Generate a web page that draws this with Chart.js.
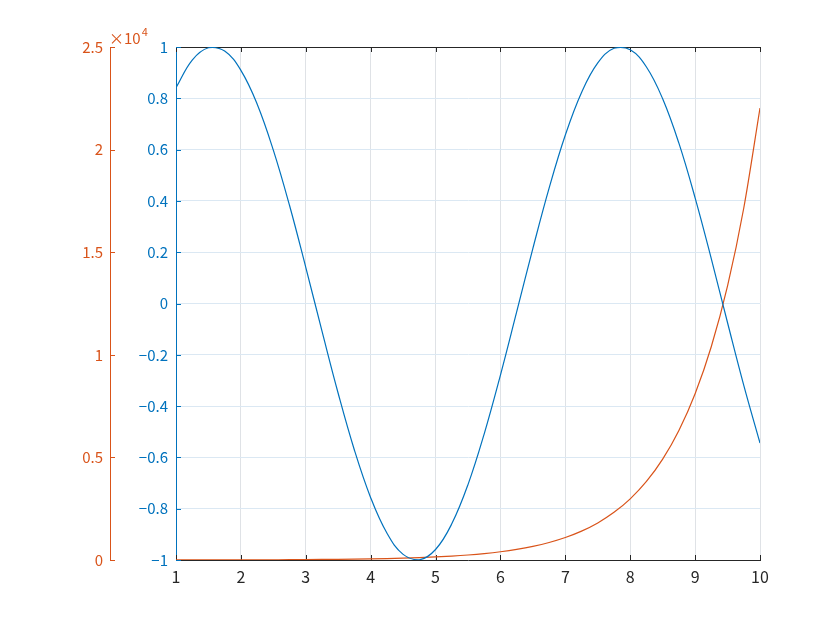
<!DOCTYPE html>
<html>
<head>
<meta charset="utf-8">
<script src="https://cdn.jsdelivr.net/npm/chart.js@4.4.1/dist/chart.umd.min.js"></script>
<style>html,body{margin:0;padding:0;background:#fff;}canvas{display:block;}</style>
</head>
<body>
<canvas id="c" width="840" height="630"></canvas>
<script>
// x positions
const xValues = [1,1.25,1.5,1.75,2,2.25,2.5,2.75,3,3.25,3.5,3.75,4,4.25,4.5,4.75,5,5.25,5.5,5.75,6,6.25,6.5,6.75,7,7.25,7.5,7.75,8,8.25,8.5,8.75,9,9.25,9.5,9.75,10];
// blue series (left inner axis)
const blueValues = [0.841,0.949,0.997,0.984,0.909,0.778,0.598,0.382,0.141,-0.108,-0.351,-0.572,-0.757,-0.895,-0.978,-0.999,-0.959,-0.859,-0.706,-0.508,-0.279,-0.033,0.215,0.450,0.657,0.823,0.938,0.995,0.989,0.922,0.798,0.625,0.412,0.174,-0.075,-0.319,-0.544];
// orange series (left outer axis, x10^4)
const orangeValues = [2.7,3.5,4.5,5.8,7.4,9.5,12.2,15.6,20.1,25.8,33.1,42.5,54.6,70.1,90,115.6,148.4,190.6,244.7,314.2,403.4,518,665,854,1097,1408,1808,2322,2981,3828,4915,6311,8103,10405,13360,17154,22026];
const xTicks = [1,2,3,4,5,6,7,8,9,10];
const blueTicks = [-1,-0.8,-0.6,-0.4,-0.2,0,0.2,0.4,0.6,0.8,1];
const orangeTicks = [0,5000,10000,15000,20000,25000];

const BLUE = '#0072BD', ORANGE = '#D95319', DARK = '#262626';
const FONT = "'Noto Sans CJK JP', 'Noto Sans', sans-serif";

const fmt = v => String(Number(v.toFixed(2))).replace('-', '\u2212');

const tickPlugin = {
  id: 'matlabTicks',
  beforeDatasetsDraw(chart) {
    const ctx = chart.ctx, a = chart.chartArea;
    const sx = chart.scales.x, sy = chart.scales.y, sy2 = chart.scales.y2;
    const L = 5;
    ctx.save();
    ctx.lineWidth = 1;
    // top border
    ctx.strokeStyle = DARK;
    ctx.beginPath();
    ctx.moveTo(a.left, a.top + 0.5); ctx.lineTo(a.right, a.top + 0.5);
    ctx.stroke();
    // x ticks bottom & top
    ctx.beginPath();
    xTicks.forEach(t => {
      const p = Math.round(sx.getPixelForValue(t)) + 0.5;
      ctx.moveTo(p, a.bottom); ctx.lineTo(p, a.bottom - L);
      ctx.moveTo(p, a.top); ctx.lineTo(p, a.top + L);
    });
    ctx.stroke();
    // blue ticks
    ctx.strokeStyle = BLUE;
    ctx.beginPath();
    blueTicks.forEach(t => {
      const p = Math.round(sy.getPixelForValue(t)) + 0.5;
      ctx.moveTo(a.left, p); ctx.lineTo(a.left + L, p);
    });
    ctx.stroke();
    // orange ticks
    ctx.strokeStyle = ORANGE;
    ctx.beginPath();
    orangeTicks.forEach(t => {
      const p = Math.round(sy2.getPixelForValue(t)) + 0.5;
      ctx.moveTo(sy2.right, p); ctx.lineTo(sy2.right + L, p);
    });
    ctx.stroke();
    // exponent label
    ctx.fillStyle = ORANGE;
    ctx.textBaseline = 'alphabetic';
    ctx.textAlign = 'left';
    ctx.font = "15px " + FONT;
    ctx.fillText('\u00D710', sy2.right - 1, a.top - 3);
    const w = ctx.measureText('\u00D710').width;
    ctx.font = "11px " + FONT;
    ctx.fillText('4', sy2.right + w, a.top - 11);
    ctx.restore();
  }
};

new Chart(document.getElementById('c'), {
  type: 'line',
  data: {
    datasets: [
      {
        label: 'blue',
        data: xValues.map((x, i) => ({x, y: blueValues[i]})),
        yAxisID: 'y',
        borderColor: BLUE,
        borderWidth: 1.2,
        pointRadius: 0,
        tension: 0.4,
        fill: false
      },
      {
        label: 'orange',
        data: xValues.map((x, i) => ({x, y: orangeValues[i]})),
        yAxisID: 'y2',
        borderColor: ORANGE,
        borderWidth: 1.2,
        pointRadius: 0,
        cubicInterpolationMode: 'monotone',
        fill: false
      }
    ]
  },
  plugins: [tickPlugin],
  options: {
    responsive: false,
    animation: false,
    devicePixelRatio: 1,
    layout: { padding: { left: 0, right: 80, top: 47, bottom: 0 } },
    plugins: { legend: { display: false }, tooltip: { enabled: false } },
    scales: {
      x: {
        type: 'linear',
        min: 1, max: 10,
        afterBuildTicks: s => { s.ticks = xTicks.map(v => ({value: v})); },
        afterFit: s => { s.height = 70; },
        ticks: { color: DARK, font: { family: FONT, size: 16 }, padding: 7, callback: v => fmt(v), maxRotation: 0 },
        grid: { color: '#dfe2e6', drawTicks: false, lineWidth: 1 },
        border: { color: DARK, width: 1 }
      },
      y: {
        position: 'left',
        weight: 0,
        min: -1, max: 1,
        afterBuildTicks: s => { s.ticks = blueTicks.map(v => ({value: v})); },
        afterFit: s => { s.width = 66; },
        ticks: { color: BLUE, font: { family: FONT, size: 15 }, padding: 8, callback: v => fmt(v) },
        grid: { color: '#dbe8f3', drawTicks: false, lineWidth: 1 },
        border: { color: BLUE, width: 1 }
      },
      y2: {
        position: 'left',
        weight: 1,
        min: 0, max: 25000,
        afterBuildTicks: s => { s.ticks = orangeTicks.map(v => ({value: v})); },
        afterFit: s => { s.width = 110; },
        ticks: { color: ORANGE, font: { family: FONT, size: 15 }, padding: 7, callback: v => fmt(v / 10000) },
        grid: { drawOnChartArea: false, drawTicks: false },
        border: { color: ORANGE, width: 1 }
      }
    }
  }
});
</script>
</body>
</html>
